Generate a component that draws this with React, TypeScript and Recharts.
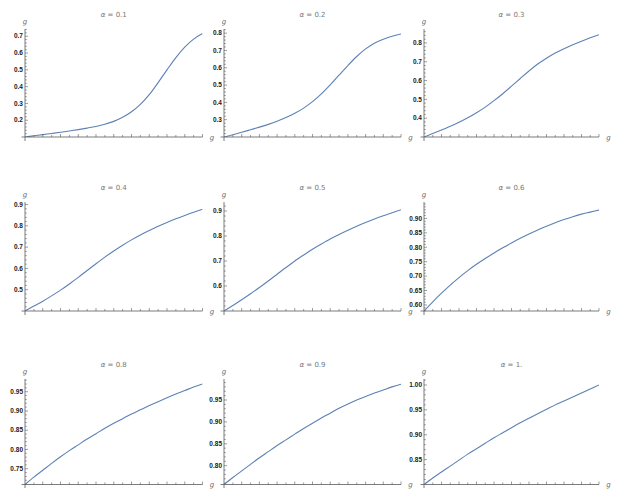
import React from 'react';
import { LineChart, Line, XAxis, YAxis } from 'recharts';

// ---------- data ----------
const tValues = [0, 0.05, 0.1, 0.15, 0.2, 0.25, 0.3, 0.35, 0.4, 0.45, 0.5, 0.55, 0.6, 0.65, 0.7, 0.75, 0.8, 0.85, 0.9, 0.95, 1];

const gAlpha01 = [0.100, 0.107, 0.114, 0.121, 0.128, 0.136, 0.144, 0.153, 0.163, 0.176, 0.193, 0.217, 0.250, 0.294, 0.352, 0.424, 0.500, 0.573, 0.635, 0.683, 0.716];
const gAlpha02 = [0.200, 0.213, 0.227, 0.242, 0.257, 0.273, 0.291, 0.312, 0.337, 0.367, 0.404, 0.449, 0.501, 0.557, 0.613, 0.665, 0.709, 0.742, 0.765, 0.782, 0.795];
const gAlpha03 = [0.300, 0.318, 0.337, 0.357, 0.378, 0.402, 0.429, 0.459, 0.493, 0.530, 0.570, 0.611, 0.651, 0.688, 0.719, 0.746, 0.769, 0.790, 0.809, 0.827, 0.844];
const gAlpha04 = [0.400, 0.423, 0.446, 0.471, 0.498, 0.527, 0.558, 0.590, 0.622, 0.653, 0.682, 0.709, 0.734, 0.757, 0.778, 0.798, 0.816, 0.833, 0.849, 0.864, 0.878];
const gAlpha05 = [0.500, 0.522, 0.545, 0.569, 0.594, 0.620, 0.647, 0.674, 0.700, 0.724, 0.747, 0.768, 0.788, 0.806, 0.823, 0.839, 0.854, 0.868, 0.881, 0.893, 0.905];
const gAlpha06 = [0.579, 0.611, 0.641, 0.669, 0.695, 0.719, 0.741, 0.761, 0.780, 0.798, 0.815, 0.831, 0.846, 0.860, 0.873, 0.885, 0.896, 0.906, 0.915, 0.922, 0.929];
const gAlpha08 = [0.709, 0.728, 0.746, 0.764, 0.781, 0.797, 0.812, 0.827, 0.841, 0.855, 0.868, 0.880, 0.892, 0.903, 0.914, 0.924, 0.934, 0.944, 0.953, 0.962, 0.970];
const gAlpha09 = [0.757, 0.773, 0.788, 0.803, 0.818, 0.832, 0.846, 0.859, 0.872, 0.885, 0.897, 0.909, 0.920, 0.931, 0.941, 0.950, 0.958, 0.966, 0.973, 0.980, 0.986];
const gAlpha10 = [0.800, 0.813, 0.825, 0.837, 0.849, 0.861, 0.872, 0.883, 0.894, 0.904, 0.914, 0.924, 0.933, 0.942, 0.951, 0.960, 0.968, 0.976, 0.984, 0.992, 1.000];

const alphaLabels = ['0.1', '0.2', '0.3', '0.4', '0.5', '0.6', '0.8', '0.9', '1.'];
const seriesList = [gAlpha01, gAlpha02, gAlpha03, gAlpha04, gAlpha05, gAlpha06, gAlpha08, gAlpha09, gAlpha10];

const yDomains: [number, number][] = [
  [0.1, 0.743], [0.2, 0.824], [0.3, 0.874],
  [0.4, 0.912], [0.5, 0.936], [0.579, 0.957],
  [0.709, 0.983], [0.757, 0.998], [0.8, 1.012],
];

const yTickLabels = [
  ['0.2', '0.3', '0.4', '0.5', '0.6', '0.7'],
  ['0.3', '0.4', '0.5', '0.6', '0.7', '0.8'],
  ['0.4', '0.5', '0.6', '0.7', '0.8'],
  ['0.5', '0.6', '0.7', '0.8', '0.9'],
  ['0.6', '0.7', '0.8', '0.9'],
  ['0.60', '0.65', '0.70', '0.75', '0.80', '0.85', '0.90'],
  ['0.75', '0.80', '0.85', '0.90', '0.95'],
  ['0.80', '0.85', '0.90', '0.95'],
  ['0.85', '0.90', '0.95', '1.00'],
];
const yMinorSteps = [0.02, 0.02, 0.02, 0.02, 0.02, 0.01, 0.01, 0.01, 0.01];

const xTickValues = [0, 0.05, 0.1, 0.15, 0.2, 0.25, 0.3, 0.35, 0.4, 0.45, 0.5, 0.55, 0.6, 0.65, 0.7, 0.75, 0.8, 0.85, 0.9, 0.95, 1];

// ---------- layout ----------
const colX0 = [25, 224, 424];
const colX1 = [202.5, 401, 599];
const rowTop = [29, 202, 378.5];
const rowBottom = [137, 311, 484];

const Y_AXIS_W = 24;
const M_TOP = 4;
const M_RIGHT = 4;
const X_AXIS_H = 4;

const AXIS_COLOR = '#5a5a5a';
const LINE_COLOR = '#5E81B5';
const TITLE_FONT = '"DejaVu Sans", sans-serif';
const TICK_FONT = '"Liberation Sans", Arial, sans-serif';

const tableRows = tValues.map((t, i) => {
  const row: Record<string, number> = { t };
  seriesList.forEach((s, k) => {
    row['s' + k] = s[i];
  });
  return row;
});

function buildYTicks(idx: number): number[] {
  const [lo, hi] = yDomains[idx];
  const step = yMinorSteps[idx];
  const set = new Set<number>();
  set.add(lo);
  for (let k = Math.ceil(lo / step - 1e-9); k * step <= hi + 1e-9; k++) {
    const v = Math.round(k * step * 1000) / 1000;
    if (v > lo + 1e-6) set.add(v);
  }
  yTickLabels[idx].forEach((l) => set.add(Number(l)));
  return Array.from(set).sort((a, b) => a - b);
}

const XTick = (props: any) => {
  const { x, y, payload } = props;
  const v = payload.value;
  if (Math.abs(v) < 1e-9) {
    return <line x1={x - 3.5} y1={y} x2={x} y2={y} stroke={AXIS_COLOR} strokeWidth={0.8} />;
  }
  const major = Math.abs(v * 10 - Math.round(v * 10)) < 1e-6;
  return <line x1={x} y1={y} x2={x} y2={y - (major ? 3 : 2)} stroke={AXIS_COLOR} strokeWidth={0.6} />;
};

const makeYTick = (idx: number) => (props: any) => {
  const { x, y, payload } = props;
  const v = payload.value;
  const lo = yDomains[idx][0];
  if (Math.abs(v - lo) < 1e-9) {
    return <line x1={x} y1={y} x2={x} y2={y + 4.5} stroke={AXIS_COLOR} strokeWidth={0.8} />;
  }
  const lab = yTickLabels[idx].find((l) => Math.abs(Number(l) - v) < 1e-6);
  return (
    <g>
      <line x1={x} y1={y} x2={x + (lab ? 3 : 1.8)} y2={y} stroke={AXIS_COLOR} strokeWidth={0.6} />
      {lab ? (
        <text
          x={x - 2}
          y={y}
          dy="0.35em"
          textAnchor="end"
          fontSize={6.5}
          fontWeight={700}
          fontFamily={TICK_FONT}
          fill="#1a1a1a"
        >
          {lab}
        </text>
      ) : null}
    </g>
  );
};

const Panel = ({ idx }: { idx: number }) => {
  const col = idx % 3;
  const row = Math.floor(idx / 3);
  const x0 = colX0[col];
  const x1 = colX1[col];
  const top = rowTop[row];
  const bottom = rowBottom[row];
  const W = x1 - x0 + Y_AXIS_W + M_RIGHT;
  const H = bottom - top + M_TOP + X_AXIS_H;
  const yTicks = buildYTicks(idx);
  return (
    <>
      <div style={{ position: 'absolute', left: x0 - Y_AXIS_W, top: top - M_TOP }}>
        <LineChart width={W} height={H} data={tableRows} margin={{ top: M_TOP, right: M_RIGHT, left: 0, bottom: 0 }}>
          <XAxis
            type="number"
            dataKey="t"
            domain={[0, 1]}
            allowDataOverflow
            ticks={xTickValues}
            interval={0}
            tickSize={0}
            tickMargin={0}
            tickLine={false}
            tick={XTick}
            height={X_AXIS_H}
            axisLine={{ stroke: AXIS_COLOR, strokeWidth: 0.8 }}
          />
          <YAxis
            type="number"
            domain={yDomains[idx]}
            allowDataOverflow
            ticks={yTicks}
            interval={0}
            tickSize={0}
            tickMargin={0}
            tickLine={false}
            tick={makeYTick(idx)}
            width={Y_AXIS_W}
            axisLine={{ stroke: AXIS_COLOR, strokeWidth: 0.8 }}
          />
          <Line
            type="monotone"
            dataKey={'s' + idx}
            stroke={LINE_COLOR}
            strokeWidth={1.1}
            dot={false}
            isAnimationActive={false}
          />
        </LineChart>
      </div>
      <div
        style={{
          position: 'absolute',
          left: (x0 + x1) / 2 - 40,
          width: 80,
          top: top - 18,
          textAlign: 'center',
          fontSize: 7,
          lineHeight: '8px',
          color: '#777',
          fontFamily: TITLE_FONT,
          whiteSpace: 'nowrap',
        }}
      >
        <span style={{ fontStyle: 'italic' }}>α</span> = {alphaLabels[idx]}
      </div>
      <div
        style={{
          position: 'absolute',
          left: x0 - 3,
          width: 6,
          top: top - 10,
          height: 7,
          textAlign: 'center',
          fontSize: 7,
          lineHeight: '7px',
          color: '#666',
          fontStyle: 'italic',
          fontFamily: TITLE_FONT,
        }}
      >
        g
      </div>
      <div
        style={{
          position: 'absolute',
          left: x1 + 7,
          width: 5,
          top: bottom - 2,
          height: 6,
          textAlign: 'center',
          fontSize: 7,
          lineHeight: '6px',
          color: '#666',
          fontStyle: 'italic',
          fontFamily: TITLE_FONT,
        }}
      >
        g
      </div>
    </>
  );
};

export default function App() {
  return (
    <div
      style={{
        position: 'absolute',
        left: 0,
        top: 0,
        width: 626,
        height: 500,
        background: '#fff',
        overflow: 'hidden',
      }}
    >
      {seriesList.map((_, i) => (
        <Panel key={i} idx={i} />
      ))}
    </div>
  );
}
